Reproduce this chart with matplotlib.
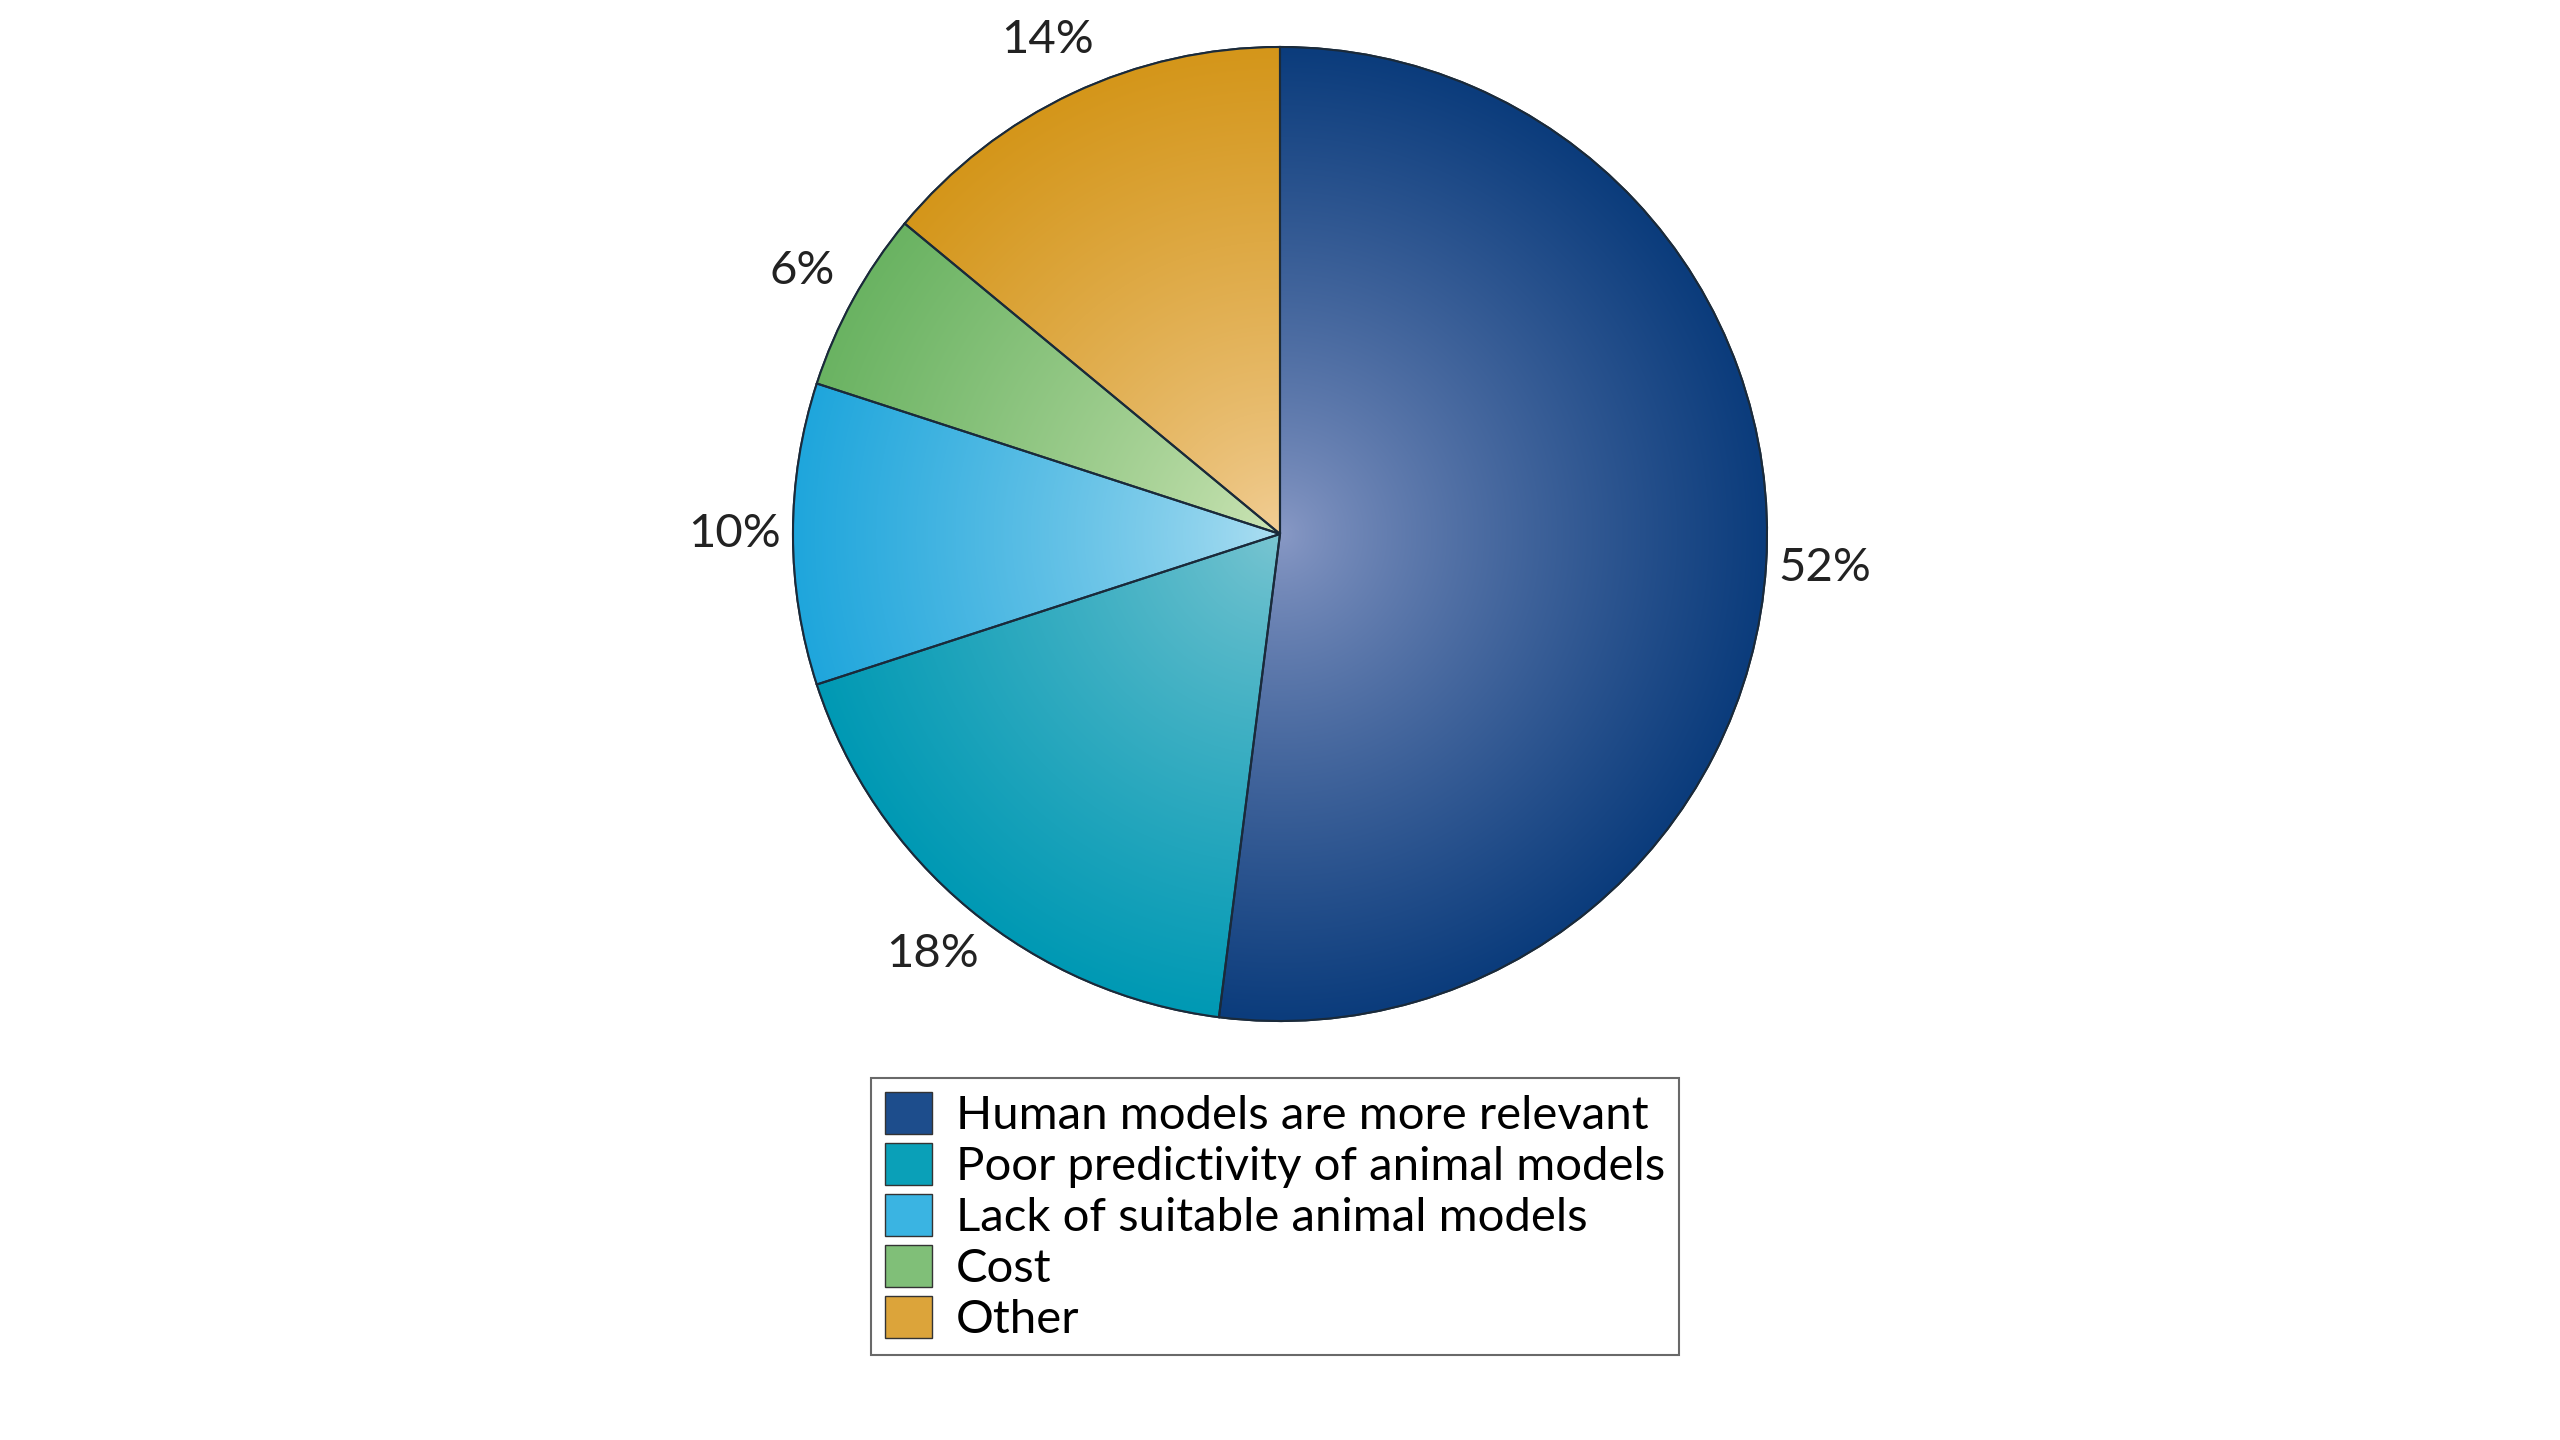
import numpy as np
import matplotlib
matplotlib.use("Agg")
import matplotlib.pyplot as plt
from matplotlib.patches import Patch
from matplotlib.colors import to_rgb

categories = ["Human models are more relevant", "Poor predictivity of animal models",
              "Lack of suitable animal models", "Cost", "Other"]
values = [52, 18, 10, 6, 14]
edge_colors = ["#0b3c7c", "#0099b4", "#1fa6dc", "#6ab362", "#d4961a"]
center_colors = ["#8a9ac6", "#7cc6d2", "#b0e0f2", "#cfe6b8", "#f2cf98"]
legend_colors = ["#1d4d8c", "#0aa0b8", "#3ab4e2", "#80bf78", "#dca43a"]

plt.rcParams['font.family'] = ['Lato', 'DejaVu Sans']
fig = plt.figure(figsize=(25.6, 14.4), dpi=100)
ax = fig.add_axes([0, 0, 1, 1])
cx, cy, r = 1280, 1440 - 534, 487
wedges, texts, autotexts = ax.pie(values, startangle=90, counterclock=False, center=(cx, cy),
                                  radius=r, colors=edge_colors, autopct='%d%%', pctdistance=1.12,
                                  wedgeprops=dict(edgecolor='#1a2a3a', linewidth=1.5),
                                  textprops=dict(fontsize=34, color='#222222'), frame=True)
ax.set_xlim(0, 2560)
ax.set_ylim(0, 1440)
ax.axis('off')

# radial gradients
n = 400
xs = np.linspace(cx - r, cx + r, n)
ys = np.linspace(cy - r, cy + r, n)
X, Y = np.meshgrid(xs, ys)
D = np.clip(np.hypot(X - cx, Y - cy) / r, 0, 1)[..., None]
for w, ec, cc in zip(wedges, edge_colors, center_colors):
    e = np.array(to_rgb(ec)); c = np.array(to_rgb(cc))
    t = D ** 0.8
    img = c * (1 - t) + e * t
    im = ax.imshow(img, extent=(cx - r, cx + r, cy - r, cy + r), origin='lower',
                   zorder=w.get_zorder() + 0.1, interpolation='bilinear')
    im.set_clip_path(w)
    w2 = plt.matplotlib.patches.Wedge((cx, cy), r, w.theta1, w.theta2, facecolor='none',
                                       edgecolor='#1a2a3a', linewidth=1.5, zorder=w.get_zorder() + 0.2)
    ax.add_patch(w2)
ax.set_aspect('equal')

handles = [Patch(facecolor=c, edgecolor='#333333') for c in legend_colors]
leg = fig.legend(handles, categories, loc='upper center', bbox_to_anchor=(0.498, 0.268),
                 fontsize=34, frameon=True, fancybox=False, edgecolor='#444444',
                 handlelength=1.0, handleheight=1.0, handletextpad=0.5, labelspacing=0.12,
                 borderpad=0.3)
leg.get_frame().set_linewidth(1.5)
fig.savefig("out.png", dpi=100)
